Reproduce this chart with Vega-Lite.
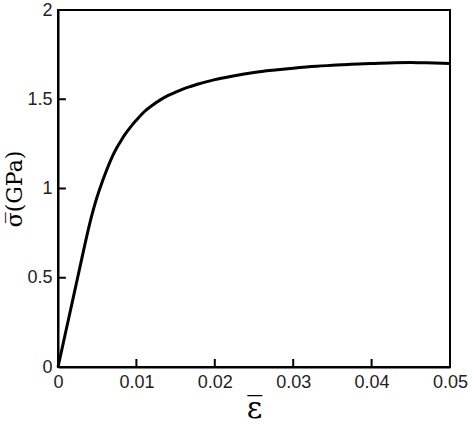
{
  "$schema": "https://vega.github.io/schema/vega-lite/v6.json",
  "autosize": "none",
  "padding": {"left": 58, "top": 10, "right": 24, "bottom": 57},
  "width": 392,
  "height": 357,
  "background": "white",
  "config": {
    "view": {"stroke": "black", "strokeWidth": 2},
    "axis": {
      "grid": false,
      "ticks": false,
      "domainColor": "black",
      "domainWidth": 2,
      "labelFont": "Liberation Sans",
      "labelFontSize": 18,
      "labelColor": "#222",
      "labelFlush": false,
      "labelOverlap": false,
      "labelPadding": 6,
      "labelExpr": "datum.value + ''",
      "titleColor": "black",
      "titleFontWeight": "normal"
    }
  },
  "datasets": {
    "curve": [
      {"strain": 0, "stress": 0},
      {"strain": 0.001, "stress": 0.2},
      {"strain": 0.002, "stress": 0.4},
      {"strain": 0.003, "stress": 0.6},
      {"strain": 0.0035, "stress": 0.7},
      {"strain": 0.004, "stress": 0.795},
      {"strain": 0.0045, "stress": 0.88},
      {"strain": 0.005, "stress": 0.955},
      {"strain": 0.0055, "stress": 1.02},
      {"strain": 0.006, "stress": 1.08},
      {"strain": 0.0065, "stress": 1.135},
      {"strain": 0.007, "stress": 1.185},
      {"strain": 0.0075, "stress": 1.228},
      {"strain": 0.008, "stress": 1.265},
      {"strain": 0.0085, "stress": 1.3},
      {"strain": 0.009, "stress": 1.33},
      {"strain": 0.0095, "stress": 1.358},
      {"strain": 0.01, "stress": 1.383},
      {"strain": 0.011, "stress": 1.43},
      {"strain": 0.012, "stress": 1.465},
      {"strain": 0.013, "stress": 1.495},
      {"strain": 0.014, "stress": 1.52},
      {"strain": 0.015, "stress": 1.54},
      {"strain": 0.016, "stress": 1.558},
      {"strain": 0.017, "stress": 1.573},
      {"strain": 0.018, "stress": 1.587},
      {"strain": 0.019, "stress": 1.599},
      {"strain": 0.02, "stress": 1.61},
      {"strain": 0.022, "stress": 1.628},
      {"strain": 0.025, "stress": 1.65},
      {"strain": 0.028, "stress": 1.665},
      {"strain": 0.03, "stress": 1.674},
      {"strain": 0.033, "stress": 1.685},
      {"strain": 0.035, "stress": 1.69},
      {"strain": 0.037, "stress": 1.695},
      {"strain": 0.04, "stress": 1.7},
      {"strain": 0.043, "stress": 1.705},
      {"strain": 0.045, "stress": 1.706},
      {"strain": 0.047, "stress": 1.704},
      {"strain": 0.05, "stress": 1.7}
    ],
    "xticks": [
      {"strain": 0.01},
      {"strain": 0.02},
      {"strain": 0.03},
      {"strain": 0.04}
    ],
    "yticks": [
      {"stress": 0.5},
      {"stress": 1},
      {"stress": 1.5}
    ]
  },
  "layer": [
    {
      "data": {"name": "curve"},
      "mark": {"type": "line", "color": "black", "strokeWidth": 3, "interpolate": "monotone"},
      "encoding": {
        "x": {
          "field": "strain",
          "type": "quantitative",
          "scale": {"domain": [0, 0.05], "nice": false},
          "axis": {
            "values": [0, 0.01, 0.02, 0.03, 0.04, 0.05],
            "title": "ε̅",
            "titleFont": "DejaVu Serif",
            "titleFontSize": 30,
            "titlePadding": 2
          }
        },
        "y": {
          "field": "stress",
          "type": "quantitative",
          "scale": {"domain": [0, 2], "nice": false},
          "axis": {
            "values": [0, 0.5, 1, 1.5, 2],
            "title": "σ̅(GPa)",
            "titleFont": "DejaVu Serif",
            "titleFontSize": 22,
            "titlePadding": 0
          }
        }
      }
    },
    {
      "data": {"name": "xticks"},
      "mark": {"type": "rule", "color": "black", "strokeWidth": 2},
      "encoding": {
        "x": {"field": "strain", "type": "quantitative"},
        "y": {"datum": 0},
        "y2": {"datum": 0.045}
      }
    },
    {
      "data": {"name": "yticks"},
      "mark": {"type": "rule", "color": "black", "strokeWidth": 2},
      "encoding": {
        "y": {"field": "stress", "type": "quantitative"},
        "x": {"datum": 0},
        "x2": {"datum": 0.001}
      }
    }
  ]
}
